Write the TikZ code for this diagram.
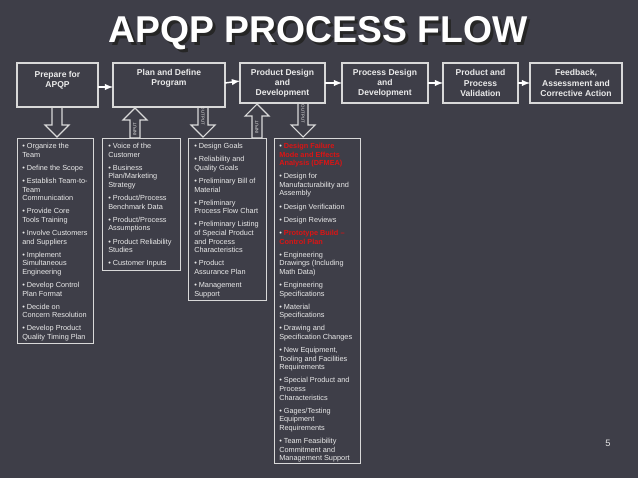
\documentclass[tikz,border=0pt]{standalone}
\usepackage{fontspec}
\setmainfont{Liberation Sans}
\newcommand{\bu}{\textbullet\ }
\definecolor{dred}{RGB}{220,20,20}
\begin{document}
\begin{tikzpicture}[x=0.75pt,y=-0.75pt,
  top/.style={draw=white!85!black,line width=0.9pt,fill=none},
  toptxt/.style={text=white!92!black,font=\fontsize{6.4}{7.6}\selectfont\bfseries,align=center},
  lst/.style={draw=white!85!black,line width=0.7pt},
  lsttxt/.style={anchor=north west,text=white!92!black,font=\fontsize{5.5}{6.4}\selectfont,align=left,inner sep=0pt},
  flow/.style={-latex,white,line width=1.1pt},
  hol/.style={draw=white!85!black,line width=0.8pt},
  lab/.style={text=white!90!black,font=\fontsize{3.3}{3.5}\selectfont,inner sep=0pt}]
\fill[fill={rgb,255:red,62;green,62;blue,72}] (0,0) rectangle (638,478);
\useasboundingbox (0,0) rectangle (638,478);
% title
\node[text=black!85,font=\fontsize{28}{30}\selectfont\bfseries] at (321,36) {APQP PROCESS FLOW};
\node (title) [text=white,font=\fontsize{28}{30}\selectfont\bfseries] at (318,33) {APQP PROCESS FLOW};
% top boxes
\draw[top] (17,63) rectangle (98,107); \node (b1) [toptxt] at (57.5,80) {Prepare for\\APQP};
\draw[top] (113,63) rectangle (225,107); \node (b2) [toptxt] at (169,78) {Plan and Define\\Program};
\draw[top] (240,63) rectangle (325,103); \node (b3) [toptxt] at (282.5,83) {Product Design\\and\\Development};
\draw[top] (342,63) rectangle (428,103); \node (b4) [toptxt] at (385,83) {Process Design\\and\\Development};
\draw[top] (443,63) rectangle (518,103); \node (b5) [toptxt] at (480.5,83) {Product and\\Process\\Validation};
\draw[top] (530,63) rectangle (622,103); \node (b6) [toptxt] at (576,83) {Feedback,\\Assessment and\\Corrective Action};
\coordinate (a1) at (98,87); \coordinate (a1e) at (113,87);
\coordinate (a2) at (225,83); \coordinate (a2e) at (240,81);
\coordinate (a3) at (325,83); \coordinate (a3e) at (342,83);
\coordinate (a4) at (428,83); \coordinate (a4e) at (443,83);
\coordinate (a5) at (518,83); \coordinate (a5e) at (530,83);
\draw[flow] (a1)--(a1e); \draw[flow] (a2)--(a2e); \draw[flow] (a3)--(a3e); \draw[flow] (a4)--(a4e); \draw[flow] (a5)--(a5e);
\newcommand{\harrowdown}[4]{%
  \draw[hol] (#1-5,#2) -- (#1+5,#2) -- (#1+5,#3-12) -- (#1+12,#3-12) -- (#1,#3) -- (#1-12,#3-12) -- (#1-5,#3-12) -- cycle;
  \node[lab,rotate=-90] at (#1,{(#2+#3-12)/2}) {#4};}
\newcommand{\harrowup}[4]{%
  \draw[hol] (#1-5,#3) -- (#1+5,#3) -- (#1+5,#2+12) -- (#1+12,#2+12) -- (#1,#2) -- (#1-12,#2+12) -- (#1-5,#2+12) -- cycle;
  \node[lab,rotate=90] at (#1,{(#2+12+#3)/2}) {#4};}
\harrowdown{57}{107}{137}{}
\harrowup{135}{108}{138}{INPUT}
\harrowdown{203}{107}{137}{OUTPUT}
\harrowup{257}{104}{138}{INPUT}
\harrowdown{303}{103}{137}{OUTPUT}
% lists
\draw[lst] (17,138) rectangle (93,343);
\draw[lst] (102,138) rectangle (180,270);
\draw[lst] (188,138) rectangle (266,300);
\draw[lst] (274,138) rectangle (360,463);
\node (l1) [lsttxt] at (22,143) {%
\bu Organize the\\Team\\[3.5pt]
\bu Define the Scope\\[3.5pt]
\bu Establish Team-to-\\Team\\Communication\\[3.5pt]
\bu Provide Core\\Tools Training\\[3.5pt]
\bu Involve Customers\\and Suppliers\\[3.5pt]
\bu Implement\\Simultaneous\\Engineering\\[3.5pt]
\bu Develop Control\\Plan Format\\[3.5pt]
\bu Decide on\\Concern Resolution\\[3.5pt]
\bu Develop Product\\Quality Timing Plan};
\node (l2) [lsttxt] at (108,143) {%
\bu Voice of the\\Customer\\[3.5pt]
\bu Business\\Plan/Marketing\\Strategy\\[3.5pt]
\bu Product/Process\\Benchmark Data\\[3.5pt]
\bu Product/Process\\Assumptions\\[3.5pt]
\bu Product Reliability\\Studies\\[3.5pt]
\bu Customer Inputs};
\node (l3) [lsttxt] at (194,143) {%
\bu Design Goals\\[3.5pt]
\bu Reliability and\\Quality Goals\\[3.5pt]
\bu Preliminary Bill of\\Material\\[3.5pt]
\bu Preliminary\\Process Flow Chart\\[3.5pt]
\bu Preliminary Listing\\of Special Product\\and Process\\Characteristics\\[3.5pt]
\bu Product\\Assurance Plan\\[3.5pt]
\bu Management\\Support};
\node (l4) [lsttxt] at (279,143) {%
\bu \textcolor{dred}{\bfseries Design Failure}\\\textcolor{dred}{\bfseries Mode and Effects}\\\textcolor{dred}{\bfseries Analysis (DFMEA)}\\[3.5pt]
\bu Design for\\Manufacturability and\\Assembly\\[3.5pt]
\bu Design Verification\\[3.5pt]
\bu Design Reviews\\[3.5pt]
\bu \textcolor{dred}{\bfseries Prototype Build --}\\\textcolor{dred}{\bfseries Control Plan}\\[3.5pt]
\bu Engineering\\Drawings (Including\\Math Data)\\[3.5pt]
\bu Engineering\\Specifications\\[3.5pt]
\bu Material\\Specifications\\[3.5pt]
\bu Drawing and\\Specification Changes\\[3.5pt]
\bu New Equipment,\\Tooling and Facilities\\Requirements\\[3.5pt]
\bu Special Product and\\Process\\Characteristics\\[3.5pt]
\bu Gages/Testing\\Equipment\\Requirements\\[3.5pt]
\bu Team Feasibility\\Commitment and\\Management Support};
\node (num) [text=white!90!black,font=\fontsize{7}{8}\selectfont] at (608,443) {5};
\end{tikzpicture}
\end{document}
